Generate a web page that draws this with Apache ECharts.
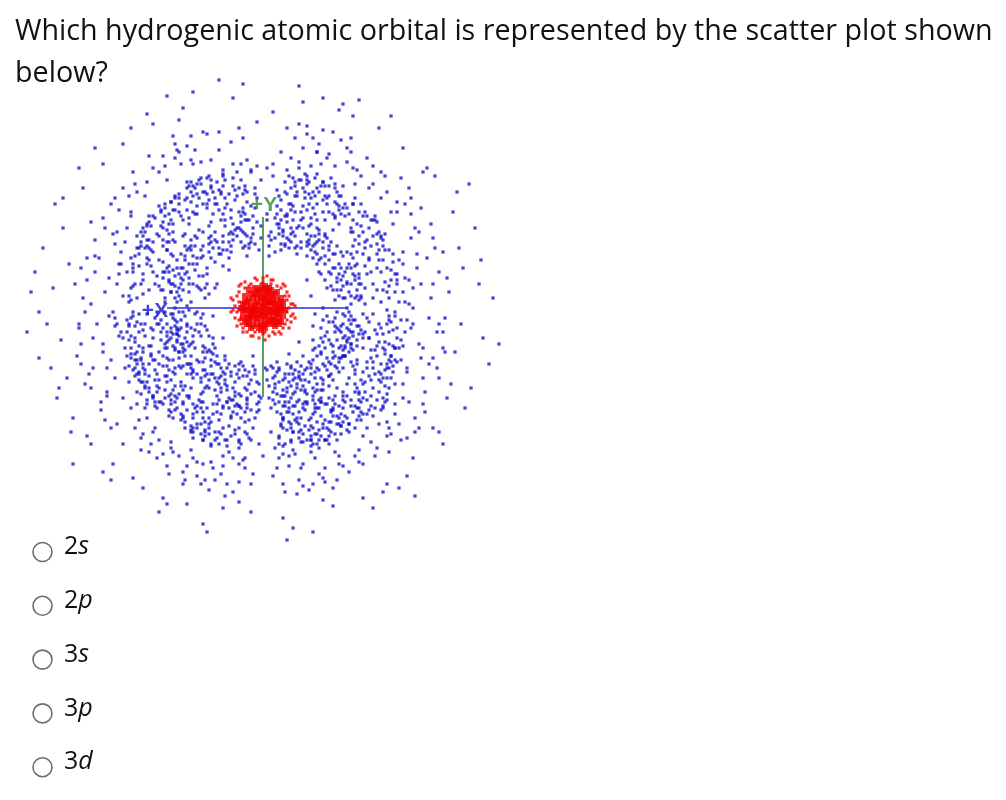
<!DOCTYPE html>
<html><head><meta charset="utf-8">
<script src="https://cdn.jsdelivr.net/npm/echarts@6/dist/echarts.min.js"></script>
<style>html,body{margin:0;padding:0;background:#fff}#c{width:1006px;height:800px}</style>
</head><body><div id="c"></div>
<script>
// Question text and answer choices
const questionLines = ['Which hydrogenic atomic orbital is represented by the scatter plot shown', 'below?'];
const choices = [['2', 's'], ['2', 'p'], ['3', 's'], ['3', 'p'], ['3', 'd']];

// Axis guide segments and their labels (data units)
const xGuide = [[-48, 0], [42, 0]];
const yGuide = [[0, 45.5], [0, -44.5]];
const guideLabels = [['+X', -54, -1.5], ['+Y', 0.5, 51.5]];

// Red core points (x,y flat pairs)
const coreDense = [
0,0,2,1,-1,3,-3,-1,1,-3,4,3,-4,2,3,-4,-2,-5,5,-1,-5,-3,6,2,-6,1,0,6,1,-6,-3,6,4,-6,7,-3,-7,-2,2,7,-1,-8,8,1,-8,3,5,5,-5,5,5,-5,-5,-6,9,-1,-9,-1,0,9,0,-9,3,8,-3,-8,8,-5,-8,-5,6,7,-6,7,7,-7,-7,-8,10,3,-10,2,2,10,-2,-10,10,-4,-10,-5,4,9,-4,10,9,5,-9,6,6,-9,-6,-10,11,-1,-11,0,1,11,-1,-11,
1,2,-2,1,2,-2,-1,-2,3,3,-3,3,3,-1,-4,-3,2,4,-2,-3,6,-2,-6,-2,4,-2,-4,-1,1,5,-1,5,0,-4,3,-7,-3,-5,7,0,-7,4,5,2,-5,0,8,-2,-8,0,4,6,-4,7,6,-6,-6,-4,2,-8,-2,8,7,4,-7,-5,9,2,-9,3,3,10,-3,9,8,-8,-8,-8,5,-8,-5,-9,10,0,-10,-2,1,-10,-1,10,9,-7,-9,-7,7,8,-7,9
];
const coreFringe = [
12,4,-12,3,4,12,-4,-12,12,-6,-12,-6,7,11,-7,11,11,-8,-11,-8,13,0,-13,-2,0,13,0,-13,9,10,-9,10,10,-10,-10,-10,14,2,-14,1,3,-14,-3,14,12,8,-12,8,8,-12,-8,-12,15,-3,-15,4,5,14,-6,-14,14,-7,-13,-9,11,11,-11,12,13,6,-13,6,6,-13,-2,-15,16,1,-16,-2,2,16,-4,15,
12,-2,-12,-1,1,-12,-1,12,11,6,-11,-5,5,-12,-6,12,14,-4,-14,-5,4,14,-5,-14,10,12,-10,-12,13,-10,-12,11,15,2,-15,-1,0,15,1,-16,9,-13,-9,13,16,-5,-16,5
];

// Blue cloud points by radial zone (x,y flat pairs)
const cloudEdge = [
24,6,-25,-4,3,26,-5,-24,18,-17,-17,19,22,14,-20,-15,26,-3,-27,7,-8,26,7,-27,25,-9,-23,12,13,-23,-24,10
];
const cloudInner = [
3,31,-7,-38,12,35,-18,29,26,-20,-31,9,38,-11,-41,-6,33,18,-24,-27,
5,-42,-2,29,15,-33,-13,40,29,25,-35,-17,40,5,-43,3,21,-36,-9,44,
31,-14,-28,12,8,-30,-16,-34,36,-24,-37,22,19,30,-22,-38,44,-4,-30,-3,
-4,-33,10,39,-11,-27,24,-28,-27,32,33,-7,-39,-15,17,-40,-20,21,42,12,
6,28,-34,-20,28,-31,-15,37,37,15,-42,10,14,-29,-6,-43,23,34,-29,-25,
30,0,-33,-2,2,-36,-19,-24,35,27,-25,-33,11,32,-38,18,27,-38,-8,36,
39,-19,-44,-9,16,36,-12,-31,20,-24,-26,25,32,10,-36,-28,9,-44,-1,41,
41,-14,-40,14,13,-37,-17,33,25,31,-30,-19,37,-2,-23,-37,4,34,-14,-42,
28,18,-32,16,18,-34,-5,-29,34,-28,-39,-4,22,26,-21,-30,43,8,-10,30,
7,-32,-27,-14,29,-10,-35,26,12,43,-18,-39,38,22,-43,-13,24,-33,-3,-37,
30,-28,-29,-31,10,-41,-16,28,40,-8,-37,8,15,38,-24,34,33,-16,-12,-35,
36,4,-41,-18,19,-29,-7,32,27,-24,-31,29,3,-39,-20,-32,44,-12,-33,11,
17,31,-26,-22,35,-19,-38,-8,8,37,-14,-29,26,36,-28,20,39,14,-44,5,
11,-35,-9,-40,31,22,-34,-11,21,-42,-22,30,42,-17,-36,-24,2,44,-15,34,
29,-35,-30,16,14,33,-40,-2,34,11,-19,-36,6,-38,-25,-18,37,-30,-10,38,
23,-27,-32,-27,40,16,-42,17,16,-31,-6,35,30,30,-27,-36,9,29,-39,24,
43,-2,-35,-14,25,-16,-21,27,12,-42,-13,-33,33,29,-29,5,18,41,-45,-3,
38,-25,-23,-28,7,42,-17,37,28,-19,-37,-19,20,-39,-4,-31,35,20,-31,-8,
32,-4,-40,9,13,30,-11,43,24,-30,-26,-29,41,5,-34,19,5,-35,-18,-41,
27,33,-28,-11,36,-12,-43,-7,15,-43,-8,-34,22,37,-33,25,39,-9,-20,29,
10,36,-36,-30,29,-23,-24,-20,31,14,-41,12,17,-27,-2,-44,44,6,-14,39,
-30,-22,26,28,-38,1,34,-33,-5,40,19,-36,-27,35,37,9,-12,-28,8,-31,
42,-10,-33,-33,14,40,-22,-35,30,-6,-39,-21,23,32,-16,31,6,-40,-44,11,
33,24,-25,-15,11,-33,-31,-5,40,-21,-9,37,21,-31,-35,12,28,37,-19,-26,
4,38,-42,-11,35,-7,-26,33,16,-35,-29,-34,38,17,-11,-44,25,-21,-37,15
];
const cloudInner2 = [
1,-30,-6,33,14,-39,-19,-33,27,22,-33,-8,40,-3,-38,-12,31,-20,-25,30,
8,42,-10,-34,17,27,-23,-24,35,-22,-40,20,22,-30,-5,37,44,2,-36,3,
12,-28,-15,42,30,33,-29,-20,39,9,-42,-2,19,-41,-17,25,37,-16,-31,-35,
3,-45,-1,35,25,-26,-20,36,41,18,-30,26,9,32,-26,-33,33,-34,-43,-16,
16,30,-12,-43,36,-5,-37,-1,26,-35,-22,-28,6,-34,-34,31,43,-11,-28,17,
29,-15,-9,31,20,40,-39,-24,31,26,-27,-21,11,-44,-14,-37,38,-20,-41,-10,
4,-29,-3,43,22,33,-32,-12,42,0,-35,22,15,-36,-8,-41,34,17,-24,38,
27,-30,-21,-40,10,38,-30,-27,39,-25,-44,0,18,-32,-11,33,40,11,-38,-9,
2,-31,-16,-32,28,24,-27,28,36,-9,-33,-26,13,34,-4,-42,32,-25,-41,15,
24,36,-29,10,8,-37,-19,41,43,-6,-36,-18,21,-41,-7,30,30,-17,-39,26,
14,-30,-13,36,33,31,-24,-35,37,13,-43,8,17,40,-18,-30,41,-20,-31,-14,
6,35,-10,-29,26,-32,-34,-3,29,17,-28,-33,12,-40,-22,27,39,-12,-42,-14,
19,33,-2,-38,35,-25,-37,12,24,29,-26,-26,5,-30,-16,38,42,13,-40,-20,
32,-12,-14,-44,9,44,-33,22,40,-15,-29,-9,23,-37,-9,-31,28,34,-36,29,
18,-35,-20,33,36,20,-30,-31,31,-29,-41,4,14,37,-6,-36,43,-15,-25,-23,
7,-43,-4,32,26,32,-38,-17,34,-18,-32,10,20,-33,-12,40,38,6,-44,-6,
11,31,-17,-28,30,-36,-23,33,41,-4,-35,-32,16,-42,-8,44,29,-22,-39,17,
25,25,-28,-22,13,-33,-31,25,37,-10,-43,-11,22,31,-15,-40,35,9,-37,-28,
3,36,-7,-32,33,-27,-26,36,39,20,-40,-18,17,-38,-21,-34,44,-8,-30,31,
10,-36,-11,39,27,27,-36,-10,32,-31,-24,23,8,40,-19,-38,40,-24,-42,6
];
const cloudSeam = [
2,47,-8,-46,15,44,-21,-42,31,36,-35,-31,42,20,-46,-10,48,4,-44,16,
25,-40,-30,38,10,-49,-4,50,38,-27,-40,-22,45,-12,-49,3,20,45,-16,-46,
33,-34,-27,41,6,45,-12,48,41,-24,-45,19,47,9,-51,-6,28,39,-23,-44,
37,31,-36,-33,13,-47,-1,-45,44,-18,-42,-25,50,-3,-47,13,18,-46,-9,47,
30,-38,-33,35,4,-50,-19,44,43,22,-38,-28,49,-11,-44,-20,24,42,-14,-49,
39,28,-29,-40,11,46,-6,-51,46,14,-48,-8,45,-21,-41,27,22,-43,-26,43,
35,-36,-37,30,8,-47,-17,-45,40,26,-43,-17,51,2,-46,-15,26,-42,-11,46,
32,35,-31,-37,16,48,-3,-48,42,-16,-50,9,47,-19,-39,31,19,44,-24,-41,
36,-29,-34,36,9,49,-15,-46,44,20,-45,-13,49,12,-42,-22,27,40,-20,47,
29,-41,-28,-39,14,-45,-7,44,40,-30,-47,18,46,-6,-36,34,21,-47,-13,-48,
34,33,-38,29,5,-46,-22,-46,43,-22,-49,-2,48,15,-40,-29,25,-44,-10,50,
38,-32,-32,39,12,47,-2,-51,45,17,-44,-21,50,-13,-46,12,23,41,-18,-47,
31,37,-35,-35,7,47,-16,45,41,-19,-48,-14,47,6,-43,24,20,-48,-27,-40,
36,27,-30,-42,15,-49,-5,46,42,28,-46,8,48,-9,-38,-33,24,45,-21,44,
33,-39,-36,31,10,-44,-12,-49,40,-24,-41,20,49,5,-48,-17,27,-41,-8,-45
];
const cloudMiddle = [
48,12,-52,-8,10,-55,-20,61,33,-45,-47,33,60,-20,-63,5,25,58,-40,-41,
5,66,-12,-49,44,38,-56,-24,52,-30,-30,52,15,-62,-64,-17,38,49,-8,58,
57,9,-49,18,22,-47,-35,-55,64,14,-58,31,29,61,-26,-57,46,-42,-3,-52,
50,27,-44,-30,11,63,-18,-66,62,-8,-51,41,35,-51,-61,-26,19,48,-37,45,
66,-2,-46,-12,27,-57,-14,54,55,36,-60,-37,41,-24,-33,-49,8,-68,-54,12,
45,-6,-66,10,16,56,-23,-48,59,-33,-42,52,31,44,-57,-42,49,-47,-6,69,
53,-15,-48,-25,21,67,-29,-62,68,3,-40,36,37,-58,-65,22,13,-52,-19,50,
61,29,-52,-47,7,51,-9,-62,43,-35,-55,28,24,-64,-45,-5,56,44,-34,60,
47,22,-62,-12,32,55,-25,-53,58,-42,-47,47,18,-58,-68,-6,40,-50,-2,-47,
64,-24,-43,20,14,-66,-21,58,51,10,-59,-31,28,-50,-38,-51,36,46,-11,64,
55,-3,-50,34,9,-59,-31,-43,45,44,-66,-20,23,52,-17,-59,62,20,-56,-19,
49,-36,-46,-48,20,60,-7,-56,57,27,-53,-2,34,-62,-42,-29,12,46,-27,66,
67,-15,-60,14,25,-53,-36,53,44,-27,-64,-30,30,48,-23,-65,52,-53,-4,60,
46,5,-57,46,16,-49,-13,68,61,-39,-48,-37,38,56,-39,-60,8,-64,-65,11,
54,18,-45,26,33,-57,-22,49,63,-4,-49,-18,26,65,-30,-47,43,-58,-15,-52,
59,-28,-67,-9,19,-61,-8,53,48,32,-52,24,40,-44,-58,-48,11,58,-33,57,
50,-20,-61,33,28,-66,-27,54,65,23,-44,-44,15,51,-12,-67,56,-11,-49,50,
47,-50,-54,-31,6,-48,-19,64,53,40,-63,-7,36,-48,-35,-62,22,62,-46,8,
62,8,-47,-26,24,-59,-40,44,41,52,-59,38,29,-45,-24,-62,10,-69,-66,-25,
58,-17,-50,-10,17,-55,-32,64,66,-20,-55,-44,35,39,-28,-50,45,-52,-3,55,
52,34,-62,27,30,-60,-16,-54,60,-35,-41,-37,13,66,-47,42,37,-40,-58,-3,
44,-46,-53,16,7,59,-21,-63,69,-6,-45,49,26,-48,-60,-22,48,48,-9,-57,
57,-46,-64,-15,21,55,-37,-45,46,16,-52,36,34,65,-26,-68,63,-30,-43,-13,
49,41,-58,25,12,-52,-10,48,54,-25,-48,-34,39,-63,-67,3,18,-65,-30,58,
65,-11,-45,-41,27,-50,-34,47,50,-32,-57,9,32,52,-20,-50,59,36,-39,54,
42,-55,-61,-43,4,-62,-14,59,61,13,-50,-29,23,-56,-44,55,38,42,-55,-26,
55,-40,-47,14,11,-47,-29,-64,67,-27,-54,45,28,58,-36,-40,46,-60,-1,64,
48,-13,-63,-28,35,-46,-18,-69,57,32,-40,-48,16,63,-59,30,42,-38,-8,-50,
64,-7,-46,-3,26,-63,-24,55,52,-46,-65,18,31,61,-31,-58,51,21,-51,-16,
60,-13,-49,-45,14,-58,-37,61,47,-28,-62,-36,22,49,-16,-64,39,-53,-56,21,
53,24,-44,33,29,-54,-11,-68,66,8,-51,-12,37,58,-41,-56,9,54,-68,-12,
58,-32,-57,-34,20,-67,-25,47,44,27,-48,29,33,-61,-35,-48,56,-50,-6,-66,
46,-38,-60,40,17,58,-30,-55,63,-18,-42,-22,25,-46,-13,56,49,52,-53,-50,
68,-20,-45,-19,10,-56,-20,66,55,5,-66,4,39,47,-27,-60,30,-41,-37,42,
50,46,-55,-15,23,-61,-9,61,61,-47,-47,-54,34,-52,-61,12,13,-50,-33,51,
57,-24,-63,36,19,64,-39,-39,45,-14,-50,31,27,44,-22,-56,43,-62,-15,65,
62,-43,-52,-22,8,-65,-28,57,51,30,-58,-46,36,-44,-44,-33,24,-69,-62,-19,
47,28,-46,44,31,-48,-5,-60,59,-10,-54,-5,14,60,-35,-65,40,-57,-57,34,
66,17,-49,-34,21,-51,-31,62,53,-34,-64,-23,38,51,-18,-47,55,-54,-42,48,
45,-29,-60,-28,15,-53,-23,52,64,-35,-48,20,26,56,-38,-44,48,-42,-11,-55,
53,-7,-53,-39,32,-66,-17,57,60,24,-43,-10,12,57,-33,-60,42,50,-66,-5,
56,-21,-47,37,18,-62,-26,64,48,-54,-59,-33,35,47,-21,-53,63,5,-50,-24,
44,12,-61,-8,22,-48,-40,-54,57,43,-45,38,30,-58,-14,-61,51,-37,-36,58,
59,-51,-56,29,9,-53,-12,60,67,-10,-52,-40,40,-46,-29,-57,27,60,-64,-9,
50,38,-48,-20,14,-67,-22,59,46,-33,-57,24,37,-54,-46,-46,20,51,-31,-50,
63,-26,-55,18,26,-52,-8,-48,52,17,-62,-33,33,56,-19,-66,58,-36,-41,-30,
47,-16,-50,43,17,-57,-35,56,61,-21,-60,-20,29,-47,-42,-43,39,-59,-4,57,
54,31,-45,-32,24,-66,-28,50,65,-32,-51,9,36,62,-25,-48,44,-49,-58,41
];
const cloudMiddle2 = [
51,-12,-50,15,14,52,-27,-58,63,11,-57,-28,32,-60,-41,46,46,34,-8,-63,
56,-33,-62,-3,22,64,-16,-55,48,17,-44,-47,38,-55,-53,37,10,-60,-35,61,
65,-19,-46,27,27,52,-33,-52,54,-44,-60,17,17,-47,-23,63,60,31,-49,-41,
47,-26,-55,-11,8,56,-12,-66,58,24,-45,42,36,-63,-58,-37,26,47,-39,-57,
62,-1,-48,33,19,-67,-29,58,50,-38,-63,-22,40,50,-20,-49,53,-51,-6,51,
44,-18,-66,-14,30,63,-37,-44,67,12,-51,48,24,-55,-59,-8,15,65,-31,-63,
57,37,-46,-36,11,-49,-24,52,62,-28,-56,41,35,-50,-43,-50,45,52,-2,-68,
52,-5,-53,-33,29,-64,-15,61,59,18,-61,-25,21,58,-36,-59,42,-44,-64,26,
48,-43,-49,5,18,-52,-32,55,63,-40,-58,34,33,48,-27,-55,57,-13,-47,-16,
46,21,-65,-4,12,-61,-19,55,55,-30,-44,-39,39,-59,-52,51,27,-68,-60,-30,
61,-23,-48,-12,23,63,-34,-50,45,38,-62,21,16,-56,-10,57,54,44,-55,-45,
49,6,-57,-19,35,-54,-26,61,66,-26,-50,40,7,-52,-41,-39,31,56,-67,-16,
58,-8,-45,-26,25,-60,-17,-50,51,33,-63,30,41,-47,-35,48,14,49,-54,-36,
64,19,-52,11,28,-46,-30,-66,47,-40,-46,53,37,52,-22,-62,60,-45,-9,59,
45,31,-59,-40,20,-63,-38,55,57,-19,-65,-2,31,-66,-48,-29,43,47,-13,-53,
55,12,-47,21,11,-68,-28,52,62,-35,-53,-42,38,-49,-40,-47,24,55,-61,38,
50,-45,-56,-23,16,61,-20,-60,66,-4,-49,46,34,-57,-33,-58,48,36,-4,-55,
59,-37,-64,12,26,-50,-36,63,53,25,-44,-51,19,-55,-57,30,40,-42,-12,-60,
47,-9,-51,-47,30,54,-24,-66,64,-27,-60,-11,36,45,-45,34,13,-57,-32,-46,
56,46,-67,6,21,-59,-16,49,61,-17,-47,-31,42,-61,-55,46,29,-47,-38,63,
52,-27,-48,39,9,-58,-31,-47,67,17,-62,-32,23,57,-20,67,46,-49,-53,-8,
60,-49,-45,12,32,-48,-27,-63,58,29,-58,22,15,-62,-42,55,50,-15,-7,-65,
44,40,-66,-23,24,-66,-35,-53,63,-12,-52,-36,39,56,-18,52,55,-27,-61,31,
49,-56,-54,-26,18,64,-11,-50,54,-21,-50,23,27,-63,-46,-43,36,53,-64,-34,
65,-29,-47,-44,13,52,-33,47,59,3,-57,43,34,-51,-23,-52,45,25,-44,49,
53,-15,-60,7,28,-61,-29,-61,48,-46,-49,-20,22,66,-39,37,62,-46,-56,-10,
57,20,-46,-52,10,-55,-21,57,66,-38,-63,-26,41,46,-36,-62,17,56,-50,18,
46,-31,-55,33,31,-56,-14,-63,61,37,-67,-8,25,50,-43,-45,51,-42,-26,60,
63,-6,-52,-28,20,-50,-38,49,49,-52,-59,-14,37,-66,-30,-52,44,-20,-65,20,
54,-36,-48,29,14,-60,-25,58,60,9,-54,-49,33,61,-41,-53,47,42,-9,-52
];
const cloudSeamOuter = [
5,72,-12,-70,25,-68,-33,62,45,52,-50,-48,60,34,-64,-26,70,8,-72,-14,
18,70,-22,-68,38,-58,-42,57,55,44,-57,-40,66,-20,-68,18,73,2,-74,-5,
10,-73,-3,71,30,63,-35,-60,48,-50,-46,53,62,-30,-60,36,69,-16,-71,22,
22,-66,-28,65,40,61,-40,-55,52,46,-54,-47,65,27,-67,-29,74,-10,-70,6,
0,-74,-15,72,33,-64,-38,60,50,-53,-51,49,58,38,-63,-33,71,15,-75,-2,
12,69,-9,-75,27,67,-30,-66,43,-58,-47,-51,61,-31,-62,30,68,24,-69,-20,
6,-70,-20,69,36,60,-26,-69,46,55,-55,-44,64,-24,-66,25,72,-6,-73,12,
16,-73,-6,68,31,-66,-44,56,54,-49,-49,52,59,35,-61,-37,70,-19,-68,-24,
24,71,-17,-72,41,-54,-36,-61,51,48,-58,42,67,14,-65,-31,75,0,-72,17,
2,70,-11,72,28,-70,-31,65,47,-56,-45,-55,63,29,-59,-39,69,-26,-74,-9
];
const cloudOuter = [
75,10,-80,-22,20,-78,-35,72,60,-50,-68,40,45,70,-52,-66,88,-8,-10,85,
72,-30,-77,15,12,90,-25,-80,65,42,-58,-55,38,-74,-90,5,55,62,-42,78,
82,25,-74,-35,28,82,-15,-92,70,-45,-63,58,48,-77,-85,-30,8,-75,-30,88,
90,-12,-71,28,33,-68,-46,-70,78,38,-84,18,18,73,-20,-74,62,-64,-55,70,
76,-55,-92,-10,5,-84,-38,81,85,12,-66,-50,42,80,-29,-86,67,53,-73,-8,
71,3,-80,45,25,-88,-48,64,80,-35,-61,-65,36,71,-12,-78,59,68,-88,25,
86,30,-70,-15,15,-71,-33,-77,73,60,-76,52,52,-60,-57,-72,22,87,-3,93,
78,-18,-86,-40,30,-85,-22,79,64,-63,-69,33,46,62,-40,-82,91,-5,-64,62,
74,47,-79,8,10,-88,-44,75,83,-28,-55,-62,27,78,-18,-88,57,-70,-81,-47,
93,8,-73,-58,20,80,-50,-73,70,28,-91,-18,40,-79,-26,74,66,-48,-9,-80,
81,-42,-75,37,35,88,-36,-71,62,58,-63,-42,17,-93,-59,56,88,18,-12,90,
72,-65,-83,-8,24,-72,-45,86,79,50,-70,-68,50,-64,-30,-78,44,78,-94,12,
77,20,-72,22,9,78,-39,-86,68,-58,-84,34,31,-80,-52,68,85,-25,-6,-88,
75,-8,-78,-30,22,91,-21,-83,59,55,-66,48,48,-71,-48,-79,14,75,-76,-60,
91,-22,-89,-2,37,-86,-34,79,74,35,-60,-63,29,72,-15,-75,63,-72,-86,43,
84,5,-74,55,19,-80,-42,-74,69,65,-93,-24,52,75,-27,-91,80,-48,-57,76,
70,-38,-81,-51,11,-92,-36,74,87,-12,-67,-37,43,-82,-49,71,25,85,-8,74,
79,-25,-71,-12,33,77,-24,-86,64,48,-79,40,46,-74,-54,-60,90,28,-16,83,
73,14,-87,-33,18,-86,-46,-67,76,-62,-65,68,39,84,-33,-84,58,-58,-91,20,
88,-35,-77,-4,26,-75,-28,87,71,52,-62,-56,54,-67,-44,82,13,-79,-69,-30,
83,-5,-72,49,30,89,-38,-79,66,-53,-85,-15,47,69,-20,-79,61,66,-53,-75,
76,40,-88,14,7,-80,-40,-88,80,-20,-64,-60,35,-90,-31,73,55,71,-78,-42,
92,15,-70,-45,23,-91,-50,76,72,-32,-82,25,42,73,-12,-87,69,-66,-59,-50,
78,-60,-91,-28,16,85,-26,-77,85,35,-67,56,50,-78,-45,-72,28,-83,-74,32,
70,22,-80,-18,38,-78,-36,86,81,-52,-61,-71,32,75,-22,88,63,-60,-86,2,
87,-30,-73,38,20,-89,-47,-83,74,55,-79,-56,44,85,-5,-83,56,-74,-66,46,
79,12,-76,-26,13,-74,-31,-88,67,48,-89,-38,49,66,-41,72,90,-20,-56,-68,
73,-47,-84,26,27,78,-19,-94,62,-57,-70,60,36,-72,-58,63,84,42,-10,-76,
71,-12,-78,-44,31,-87,-43,79,77,27,-63,-48,53,60,-35,-75,18,92,-92,-8
];
const cloudHalo = [
100,20,-98,-35,30,105,-60,-90,85,-60,-105,10,15,-110,-40,100,70,80,-90,60,
110,-15,-112,-25,-10,112,50,-95,-75,-78,95,48,-20,-100,62,-88,-95,-55,40,102,
104,-40,-100,40,25,-112,-55,92,80,68,-108,-8,5,98,-70,82,92,-45,-30,-108,
115,5,-96,-62,35,-99,-48,-98,98,30,-80,72,58,90,-15,105,75,-75,-114,18,
96,-22,-103,-45,-65,-85,45,96,106,40,-88,-64,12,-116,-35,108,88,-62,-110,30,
101,-50,-97,22,20,103,-52,-102,68,-90,-84,80,108,12,-6,-102,82,70,-118,-12,
97,58,-106,-30,-42,94,55,-100,113,-28,-76,-86,30,-96,-100,55,64,96,-22,114,
99,-8,-92,70,10,-105,-58,97,90,-68,-112,-2,48,104,-38,-98,109,24,-86,-68,
103,62,-101,-16,-28,-112,72,-84,94,-38,-66,90,18,111,-104,52,60,-92,-50,-95,
118,-18,-95,-78,38,99,-12,-97,-80,-82,86,66,-116,8,76,-94,-48,106,-102,-40
];

function pairs(flat) {
  const out = [];
  for (let i = 0; i < flat.length; i += 2) out.push([flat[i], flat[i + 1]]);
  return out;
}
const cloudData = pairs([].concat(cloudEdge, cloudInner, cloudInner2, cloudSeam, cloudMiddle, cloudMiddle2, cloudSeamOuter, cloudOuter, cloudHalo));

const FONT = '"Open Sans", "Noto Sans", sans-serif';
const BLUE = '#1414cc';
const GREEN = '#2e8a36';
const RED = '#f40000';

const graphics = [];
questionLines.forEach((t, i) => {
  graphics.push({
    type: 'text', x: 15, y: 31.5 + i * 42.4, silent: true,
    style: { text: t, font: '28.7px ' + FONT, fill: '#111', textAlign: 'left', align: 'left', textVerticalAlign: 'middle', verticalAlign: 'middle' }
  });
});
choices.forEach((c, i) => {
  graphics.push({
    type: 'circle', silent: true,
    shape: { cx: 42.5, cy: 552 + i * 53.8, r: 9.5 },
    style: { fill: '#fff', stroke: '#6d6d6d', lineWidth: 1.6 }
  });
  graphics.push({
    type: 'text', x: 64, y: 547 + i * 53.8, silent: true,
    style: {
      text: '{n|' + c[0] + '}{i|' + c[1] + '}',
      textAlign: 'left', align: 'left', textVerticalAlign: 'middle', verticalAlign: 'middle',
      rich: {
        n: { font: '25px ' + FONT, fill: '#111' },
        i: { font: 'italic 25px ' + FONT, fill: '#111' }
      }
    }
  });
});

const chart = echarts.init(document.getElementById('c'), null, { renderer: 'canvas' });
chart.setOption({
  animation: false,
  backgroundColor: '#fff',
  grid: { left: 3, top: 68, width: 520, height: 480 },
  xAxis: { type: 'value', min: -130, max: 130, show: false },
  yAxis: { type: 'value', min: -120, max: 120, show: false },
  graphic: graphics,
  series: [
    {
      type: 'scatter', data: cloudData, symbol: 'rect', symbolSize: 3.2,
      itemStyle: { color: BLUE }, silent: true, z: 2
    },
    {
      type: 'line', data: xGuide, symbol: 'none', silent: true, z: 3,
      lineStyle: { color: '#2b2fd2', width: 1.6 }
    },
    {
      type: 'line', data: yGuide, symbol: 'none', silent: true, z: 3,
      lineStyle: { color: GREEN, width: 1.6 }
    },
    {
      type: 'scatter', data: pairs(coreFringe), symbol: 'rect', symbolSize: 3.2,
      itemStyle: { color: RED }, silent: true, z: 4
    },
    {
      type: 'scatter', data: pairs(coreDense), symbol: 'rect', symbolSize: 6,
      itemStyle: { color: RED }, silent: true, z: 4
    },
    {
      type: 'scatter', symbolSize: 0, silent: true, z: 5,
      data: guideLabels.map((g, i) => ({
        value: [g[1], g[2]], name: g[0],
        label: { show: true, position: 'inside', formatter: g[0], fontSize: 21, fontWeight: 'bold', fontFamily: '"Liberation Sans", Arial, sans-serif', color: i === 0 ? BLUE : GREEN }
      }))
    }
  ]
});
</script>
</body></html>
